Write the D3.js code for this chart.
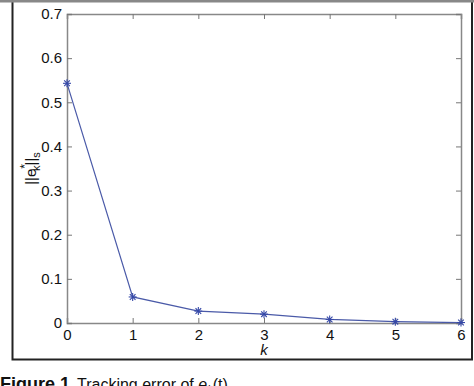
<!DOCTYPE html>
<html>
<head>
<meta charset="utf-8">
<script src="https://cdn.jsdelivr.net/npm/d3@7"></script>
<style>
  body { margin: 0; background: #fff; }
  svg { display: block; }
  text { font-family: "Liberation Sans", Arial, sans-serif; }
</style>
</head>
<body>
<div id="chart"></div>
<script>
// Data
const kValues = [0, 1, 2, 3, 4, 5, 6];
const errorValues = [0.543, 0.059, 0.027, 0.02, 0.008, 0.003, 0.001];
const yTicks = [0, 0.1, 0.2, 0.3, 0.4, 0.5, 0.6, 0.7];
const xTicks = [0, 1, 2, 3, 4, 5, 6];

const width = 474;
const height = 386;
const plot = { left: 67, right: 461, top: 14, bottom: 323 };

const svg = d3.select("#chart")
    .append("svg")
    .attr("width", width)
    .attr("height", height);

// Outer figure frame
svg.append("rect")
    .attr("x", 12.5).attr("y", -2)
    .attr("width", 459.5).attr("height", 361.5)
    .attr("fill", "none")
    .attr("stroke", "#222")
    .attr("stroke-width", 2);
svg.append("line")
    .attr("x1", 0).attr("x2", width)
    .attr("y1", 1).attr("y2", 1)
    .attr("stroke", "#888").attr("stroke-width", 3);

const x = d3.scaleLinear().domain([0, 6]).range([plot.left, plot.right]);
const y = d3.scaleLinear().domain([0, 0.7]).range([plot.bottom, plot.top]);

const axisColor = "#888";
const tickLen = 5;
const fontSize = 15;

// Axes (MATLAB style, ticks pointing inward)
const bottomAxis = svg.append("g")
    .attr("transform", `translate(0,${plot.bottom})`)
    .call(d3.axisBottom(x).tickValues(xTicks).tickSize(-tickLen).tickPadding(6).tickFormat(d3.format("d")));
const topAxis = svg.append("g")
    .attr("transform", `translate(0,${plot.top})`)
    .call(d3.axisTop(x).tickValues(xTicks).tickSize(-tickLen).tickFormat(""));
const leftAxis = svg.append("g")
    .attr("transform", `translate(${plot.left},0)`)
    .call(d3.axisLeft(y).tickValues(yTicks).tickSize(-tickLen).tickPadding(5)
        .tickFormat(d => d === 0 ? "0" : d3.format(".1f")(d)));
const rightAxis = svg.append("g")
    .attr("transform", `translate(${plot.right},0)`)
    .call(d3.axisRight(y).tickValues(yTicks).tickSize(-tickLen).tickFormat(""));

[bottomAxis, topAxis, leftAxis, rightAxis].forEach(g => {
    g.select(".domain").attr("stroke", axisColor).attr("stroke-width", 1.5);
    g.selectAll(".tick line").attr("stroke", "#777");
    g.selectAll(".tick text").attr("fill", "#111").attr("font-size", fontSize)
        .style("font-family", "'Liberation Sans', Arial, sans-serif");
});

// Axis labels
svg.append("text")
    .attr("x", (plot.left + plot.right) / 2)
    .attr("y", 355)
    .attr("text-anchor", "middle")
    .attr("font-size", fontSize)
    .attr("font-style", "italic")
    .attr("fill", "#111")
    .text("k");

const yLabel = svg.append("text")
    .attr("transform", `translate(36,${(plot.top + plot.bottom) / 2}) rotate(-90)`)
    .attr("text-anchor", "middle")
    .attr("font-size", fontSize)
    .attr("fill", "#111");
yLabel.append("tspan").text("||e");
yLabel.append("tspan").attr("dy", -7).attr("font-size", 12).text("*");
yLabel.append("tspan").attr("dx", -7).attr("dy", 11).attr("font-size", 11).text("k");
yLabel.append("tspan").attr("dy", -4).text("||");
yLabel.append("tspan").attr("dy", 4).attr("font-size", 11).text("s");

// Series line
const lineColor = "#4a5aa8";
svg.append("path")
    .datum(kValues.map((k, i) => [k, errorValues[i]]))
    .attr("fill", "none")
    .attr("stroke", lineColor)
    .attr("stroke-width", 1.2)
    .attr("d", d3.line().x(d => x(d[0])).y(d => y(d[1])));

// Asterisk markers
const starSize = 4;
const markers = svg.append("g")
    .attr("stroke", "#3548a8")
    .attr("stroke-width", 1.1);
kValues.forEach((k, i) => {
    const cx = x(k);
    const cy = y(errorValues[i]);
    [0, 45, 90, 135].forEach(a => {
        const r = a * Math.PI / 180;
        markers.append("line")
            .attr("x1", cx - starSize * Math.cos(r)).attr("y1", cy - starSize * Math.sin(r))
            .attr("x2", cx + starSize * Math.cos(r)).attr("y2", cy + starSize * Math.sin(r));
    });
});

// Caption (cut off at the bottom of the picture, as in the source)
const captionY = 390;
svg.append("text")
    .attr("x", 0)
    .attr("y", captionY)
    .attr("font-size", 18)
    .attr("font-weight", "bold")
    .attr("fill", "#111")
    .text("Figure 1.");
const caption = svg.append("text")
    .attr("x", 77)
    .attr("y", captionY)
    .attr("font-size", 16)
    .attr("fill", "#111");
caption.append("tspan").text("Tracking error of ");
caption.append("tspan").attr("font-style", "italic").text("e");
caption.append("tspan").attr("font-size", 11).attr("dy", 3).attr("font-style", "italic").text("k");
caption.append("tspan").attr("dy", -3).text("(t)");
</script>
</body>
</html>
